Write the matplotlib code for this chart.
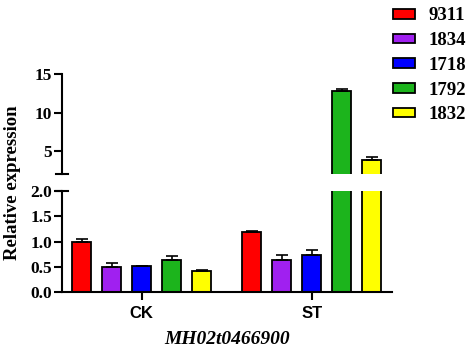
import matplotlib.pyplot as plt
import numpy as np
from matplotlib.patches import Patch

# data
groups = ['CK', 'ST']
lines = ['9311', '1834', '1718', '1792', '1832']
colors = ['#ff0000', '#a020f0', '#0000ff', '#1cb41c', '#ffff00']
means = {
    'CK': [1.00, 0.50, 0.51, 0.64, 0.42],
    'ST': [1.19, 0.63, 0.745, 12.85, 3.80],
}
errs = {
    'CK': [0.05, 0.07, 0.015, 0.07, 0.03],
    'ST': [0.02, 0.10, 0.10, 0.15, 0.45],
}

serif = 'Liberation Serif'
sans = 'Liberation Sans'

fig = plt.figure(figsize=(4.74, 3.51), dpi=100)
left, right = 62 / 474, 391.7 / 474
ax_top = fig.add_axes([left, 1 - 174.3 / 351, right - left, (174.3 - 74) / 351])
ax_bot = fig.add_axes([left, 1 - 292.3 / 351, right - left, (292.3 - 191) / 351])

step = 30 / 170
width = 19 / 170
offsets = (np.arange(len(lines)) - 2) * step

for ax in (ax_top, ax_bot):
    for gi, g in enumerate(groups):
        xs = gi + offsets
        ax.bar(xs, means[g], width=width, color=colors, edgecolor='black', linewidth=1.3, zorder=2)
        ax.errorbar(xs, means[g], yerr=[np.zeros(len(lines)), errs[g]], fmt='none',
                    ecolor='black', elinewidth=1.2, capsize=4, capthick=1.2, zorder=3)
    ax.set_xlim(-0.469, 1.47)
    for s in ('top', 'right'):
        ax.spines[s].set_visible(False)
    ax.spines['left'].set_linewidth(1.5)
    ax.spines['bottom'].set_linewidth(1.5)
    ax.tick_params(axis='y', width=1.5, length=6, pad=1)

ax_top.set_ylim(2, 15)
ax_top.set_yticks([5, 10, 15])
ax_top.set_yticklabels(['5', '10', '15'], fontfamily=serif, fontweight='bold', fontsize=12.5)
ax_top.spines['bottom'].set_visible(False)
ax_top.set_xticks([])

ax_bot.set_ylim(0, 2)
ax_bot.set_yticks([0, 0.5, 1.0, 1.5, 2.0])
ax_bot.set_yticklabels(['0.0', '0.5', '1.0', '1.5', '2.0'], fontfamily=serif, fontweight='bold', fontsize=12.5)
ax_bot.set_xticks([0, 1])
ax_bot.set_xticklabels(groups, fontfamily=sans, fontweight='bold', fontsize=12)
ax_bot.tick_params(axis='x', width=1.5, length=6, pad=4)

# break marks on the y axis
ax_top.plot([-0.018, 0.018], [0, 0], transform=ax_top.transAxes, color='black', lw=1.5, clip_on=False)
ax_bot.plot([-0.018, 0.018], [1, 1], transform=ax_bot.transAxes, color='black', lw=1.5, clip_on=False)

fig.text(13 / 474, 1 - 182.5 / 351, 'Relative expression', rotation=90, ha='center', va='center',
         fontfamily=serif, fontweight='bold', fontsize=13.5)
fig.text(227 / 474, 1 - 340 / 351, 'MH02t0466900', ha='center', va='center',
         fontfamily=serif, fontweight='bold', fontstyle='italic', fontsize=14)

handles = [Patch(facecolor=c, edgecolor='black', linewidth=1.3) for c in colors]
fig.legend(handles, lines, loc='upper left', bbox_to_anchor=(393 / 474, 1 - 7.5 / 351),
           frameon=False, borderpad=0, borderaxespad=0, handlelength=1.17, handleheight=0.43,
           labelspacing=0.41, handletextpad=0.74,
           prop={'family': serif, 'weight': 'bold', 'size': 13.5})

fig.savefig('out.png', dpi=100)
